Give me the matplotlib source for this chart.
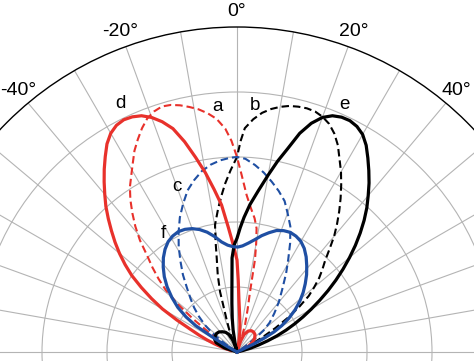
import numpy as np
import matplotlib.pyplot as plt

plt.rcParams['font.family'] = ['Liberation Sans', 'DejaVu Sans']

# angles in degrees (0 = up, positive to the right), r normalised to outer ring = 1
theta_a = [-60, -57, -55, -53, -51, -49, -47, -45, -43, -41, -39, -37, -35, -33, -31, -29, -27, -25,
           -23, -21, -19, -17, -15, -13, -11, -9, -7, -5, -3, -1.5, 0, 1.5, 3.5, 5.5, 7.5, 9, 10, 11,
           12.2, 14, 16.5, 18.5, 20.5]
r_a = [0.0, 0.06, 0.11, 0.17, 0.235, 0.29, 0.33, 0.368, 0.405, 0.455, 0.497, 0.535, 0.572, 0.605, 0.632,
       0.662, 0.695, 0.722, 0.748, 0.77, 0.783, 0.79, 0.787, 0.779, 0.768, 0.756, 0.74, 0.72, 0.688, 0.65,
       0.6, 0.545, 0.484, 0.445, 0.415, 0.385, 0.34, 0.29, 0.19, 0.135, 0.087, 0.04, 0.0]

theta_b = [-24, -20, -18, -15.7, -14, -12.2, -11, -9.8, -7.5, -5.6, -4, -2, 0, 1, 2, 4, 6, 8, 10, 12,
           14, 16, 18, 20, 22, 24, 26, 28, 30, 32, 34, 36, 38, 40, 42, 44, 46, 48, 50, 52, 54, 56,
           58, 60, 62, 63.5]
r_b = [0.0, 0.06, 0.1, 0.193, 0.245, 0.295, 0.345, 0.397, 0.445, 0.485, 0.52, 0.56, 0.6, 0.65, 0.689,
       0.718, 0.74, 0.755, 0.766, 0.774, 0.778, 0.78, 0.778, 0.77, 0.757, 0.736, 0.708, 0.672, 0.64,
       0.605, 0.57, 0.535, 0.5, 0.465, 0.425, 0.39, 0.365, 0.34, 0.31, 0.28, 0.237, 0.19, 0.14, 0.09,
       0.04, 0.0]

theta_c = [-58, -56, -54, -52, -50, -47, -44, -41, -38, -35, -32, -29, -26, -23, -20, -17, -14, -11,
           -8, -5, -2, 0, 2.5, 5.5, 8.5, 11.5, 14.5, 17.5, 20, 23, 26, 29, 32, 36, 40, 44, 48, 51,
           53, 55, 57]
r_c = [0.0, 0.035, 0.07, 0.1, 0.128, 0.16, 0.19, 0.218, 0.25, 0.29, 0.328, 0.37, 0.41, 0.45, 0.485,
       0.52, 0.545, 0.567, 0.582, 0.592, 0.598, 0.6, 0.595, 0.578, 0.558, 0.535, 0.512, 0.487, 0.455,
       0.42, 0.373, 0.325, 0.285, 0.236, 0.2, 0.165, 0.135, 0.105, 0.07, 0.035, 0.0]

theta_d = [-76, -73, -70, -68, -66, -64, -62, -60, -58, -56, -54, -52, -50, -48, -46, -44, -42, -40,
           -38, -36, -34, -32, -30, -28, -26, -24, -22, -20, -18, -16, -14, -12, -10, -8, -6, -4, -2,
           0, 1, 2, 4, 6, 8, 10, 12, 14, 18, 22, 28, 34, 40, 46, 52, 58, 64, 70, 74]
r_d = [0.02, 0.045, 0.075, 0.1, 0.128, 0.16, 0.21, 0.265, 0.31, 0.355, 0.4, 0.437, 0.472, 0.505,
       0.537, 0.57, 0.603, 0.633, 0.664, 0.695, 0.725, 0.755, 0.777, 0.79, 0.795, 0.792, 0.784, 0.768,
       0.745, 0.715, 0.667, 0.612, 0.56, 0.505, 0.455, 0.385, 0.33, 0.283, 0.22, 0.165, 0.115, 0.085,
       0.06, 0.035, 0.015, 0.0, 0.035, 0.058, 0.073, 0.079, 0.08, 0.077, 0.069, 0.056, 0.038, 0.018, 0.0]

theta_e = [-78, -72, -66, -60, -54, -48, -42, -36, -30, -25, -20, -16, -13, -12, -10, -8, -6, -5, -4,
           -3, -1.5, 0, 1.5, 3, 5, 7.5, 10, 12, 14, 16, 18, 20, 22, 24, 26, 28, 30, 32, 34, 36, 38, 40,
           42, 44, 46, 48, 50, 52, 54, 56, 58, 60, 62, 64, 66, 68, 70, 72, 74, 76, 78]
r_e = [0.0, 0.04, 0.07, 0.08, 0.083, 0.085, 0.083, 0.077, 0.07, 0.06, 0.04, 0.018, 0.0, 0.03, 0.069,
       0.105, 0.15, 0.18, 0.222, 0.29, 0.33, 0.35, 0.383, 0.415, 0.455, 0.5, 0.553, 0.6, 0.645, 0.7,
       0.74, 0.768, 0.784, 0.791, 0.792, 0.786, 0.773, 0.75, 0.72, 0.69, 0.66, 0.628, 0.597, 0.563,
       0.527, 0.49, 0.452, 0.414, 0.376, 0.338, 0.3, 0.264, 0.23, 0.197, 0.165, 0.133, 0.1, 0.07, 0.045,
       0.02, 0.0]

theta_f = [-62, -60.5, -59, -57.5, -55.5, -53, -50, -47, -44, -41, -38, -35, -32, -29, -26, -23, -20,
           -17, -14, -11, -8, -5, -2, 0.5, 3, 6, 9, 12, 15, 18, 21, 24, 27, 30, 33, 36, 39, 42, 45, 48,
           51, 54, 57, 59.5, 61.5, 63, 64.5, 66]
r_f = [0.0, 0.04, 0.08, 0.15, 0.19, 0.228, 0.262, 0.294, 0.322, 0.346, 0.368, 0.386, 0.4, 0.408, 0.412,
       0.41, 0.404, 0.394, 0.38, 0.362, 0.342, 0.33, 0.324, 0.323, 0.327, 0.337, 0.35, 0.366, 0.38, 0.393,
       0.4, 0.403, 0.4, 0.393, 0.38, 0.362, 0.341, 0.32, 0.297, 0.274, 0.249, 0.221, 0.19, 0.16, 0.13,
       0.095, 0.055, 0.0]

labels = ['a', 'b', 'c', 'd', 'e', 'f']
label_theta = [-4.6, 4.2, -19.9, -25.1, 23.5, -31.9]
label_r = [0.759, 0.759, 0.543, 0.843, 0.832, 0.431]

red = '#e8312b'
blue = '#1f4fa3'
dash = (0, (3.6, 1.9))

fig = plt.figure(figsize=(4.74, 3.61), dpi=100)
# full polar disc centred at (237, 352) px with radius 325 px, lower half falls off the figure
ax = fig.add_axes([(237 - 325) / 474, (9 - 325) / 361, 650 / 474, 650 / 361], projection='polar')
ax.set_theta_zero_location('N')
ax.set_theta_direction(-1)

ax.plot(np.deg2rad(theta_a), r_a, color=red, lw=1.5, ls=dash)
ax.plot(np.deg2rad(theta_b), r_b, color='black', lw=1.5, ls=dash)
ax.plot(np.deg2rad(theta_c), r_c, color=blue, lw=1.5, ls=dash)
ax.plot(np.deg2rad(theta_d), r_d, color=red, lw=2.3)
ax.plot(np.deg2rad(theta_e), r_e, color='black', lw=2.3)
ax.plot(np.deg2rad(theta_f), r_f, color=blue, lw=2.3)

for s, t, r in zip(labels, label_theta, label_r):
    ax.text(np.deg2rad(t), r, s, fontsize=13.5, ha='center', va='center')

# keep the full circle (plotting would otherwise shrink theta range to the data)
ax.set_thetalim(-np.pi, np.pi)
ax.set_rlim(0, 1)
ax.set_rticks([0.2, 0.4, 0.6, 0.8])
ax.set_yticklabels([])
ax.tick_params(axis='y', length=0)

angles = list(range(-90, 91, 10))
ax.set_thetagrids(angles, labels=[f'{t}°' if t % 20 == 0 and abs(t) <= 40 else '' for t in angles],
                  fontsize=14)
ax.tick_params(axis='x', direction='inout', length=5, width=0.8, colors='black', pad=2)
ax.grid(color='#b4b4b4', linewidth=0.8)
ax.spines['polar'].set_linewidth(1.0)

fig.savefig('out.png', dpi=100)
